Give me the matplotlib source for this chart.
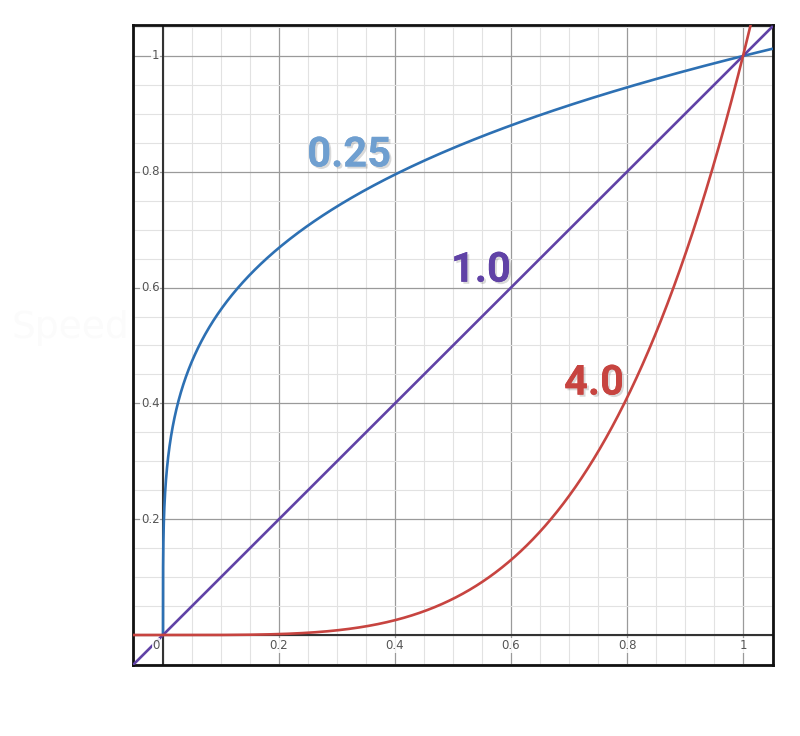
import numpy as np
import matplotlib
matplotlib.use("Agg")
import matplotlib.pyplot as plt
import matplotlib.patheffects as pe
from matplotlib.ticker import MultipleLocator

# Data: power-curve exponents and their labels
exponents = [0.25, 1.0, 4.0]
labels = ["0.25", "1.0", "4.0"]
line_colors = ["#2d70b3", "#6042a6", "#c74440"]
label_colors = ["#6f9fd0", "#6042a6", "#c74440"]
label_pos = [(0.321, 0.829), (0.548, 0.630), (0.743, 0.435)]
tick_vals = [0.2, 0.4, 0.6, 0.8, 1.0]
tick_labels = ["0.2", "0.4", "0.6", "0.8", "1"]

xmin, xmax = -0.0517, 1.0517
ymin, ymax = -0.0518, 1.0535

fig = plt.figure(figsize=(8, 7.36), dpi=100)
ax = fig.add_axes([133/800, 71/736, 640/800, 640/736])
ax.set_xlim(xmin, xmax)
ax.set_ylim(ymin, ymax)

# grid
ax.xaxis.set_major_locator(MultipleLocator(0.2))
ax.yaxis.set_major_locator(MultipleLocator(0.2))
ax.xaxis.set_minor_locator(MultipleLocator(0.05))
ax.yaxis.set_minor_locator(MultipleLocator(0.05))
ax.grid(which="major", color="#9a9a9a", linewidth=0.9)
ax.grid(which="minor", color="#e2e2e2", linewidth=0.8)
ax.set_axisbelow(True)
ax.tick_params(which="both", length=0, labelbottom=False, labelleft=False)

for s in ax.spines.values():
    s.set_linewidth(2)
    s.set_color("#111111")

# axes lines
ax.axhline(0, color="#333333", linewidth=1.5, zorder=1)
ax.axvline(0, color="#333333", linewidth=1.5, zorder=1)

# curves
for p, c in zip(exponents, line_colors):
    if p < 1:
        x = np.concatenate([[0.0], np.geomspace(1e-8, xmax, 2000)])
    else:
        x = np.linspace(xmin, xmax, 2000)
    y = np.sign(x) * np.abs(x) ** p if p != 4.0 else x ** p
    ax.plot(x, y, color=c, linewidth=1.9, zorder=3, solid_capstyle="butt")

# curve labels
for (lx, ly), t, c in zip(label_pos, labels, label_colors):
    ax.text(lx, ly, t, color=c, fontsize=30, fontweight="bold",
            family=["Roboto", "DejaVu Sans"],
            ha="center", va="center", zorder=5,
            path_effects=[pe.withSimplePatchShadow(offset=(1.5, -1.5), shadow_rgbFace="#000000", alpha=0.15),
                          pe.Normal()])

# tick labels
tick_kw = dict(color="#555555", fontsize=8.5, zorder=4,
               bbox=dict(facecolor="white", edgecolor="none", pad=0.5, alpha=0.85))
for v, t in zip(tick_vals, tick_labels):
    ax.text(v, -0.018, t, ha="center", va="center", **tick_kw)
    ax.text(-0.006, v, t, ha="right", va="center", **tick_kw)
ax.text(-0.012, -0.018, "0", ha="center", va="center", **tick_kw)

# faint axis title
fig.text(70/800, 1 - 328/736, "Speed", color="#fbfbfb", fontsize=27,
         ha="center", va="center")

fig.savefig("out.png", dpi=100, facecolor="white")
